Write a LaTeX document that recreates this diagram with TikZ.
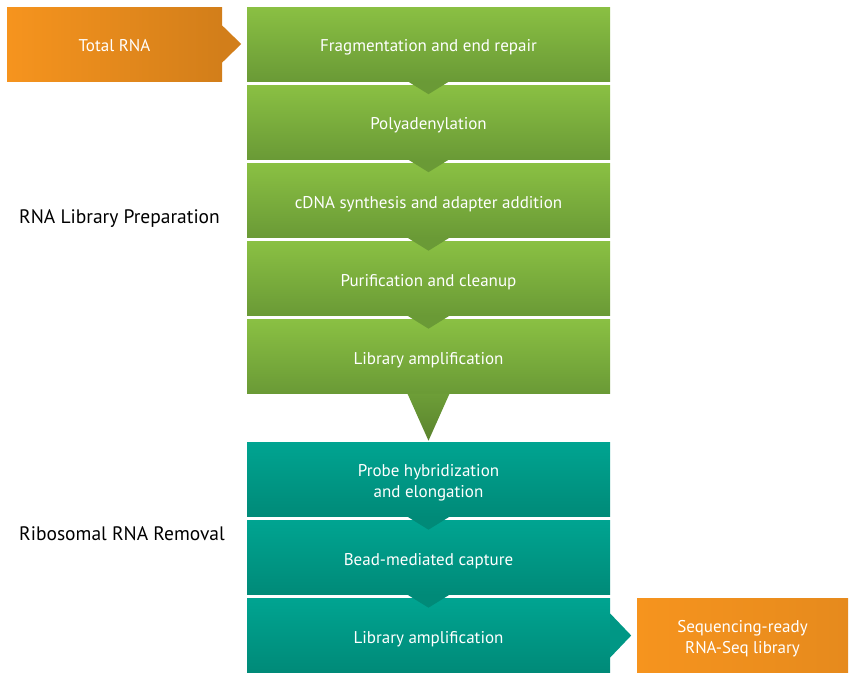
\documentclass[tikz,border=0pt]{standalone}
\usepackage{fontspec}
\setmainfont{PT Sans}
\definecolor{greenTop}{HTML}{8AC043}
\definecolor{greenBot}{HTML}{6A9A36}
\definecolor{tealTop}{HTML}{00A491}
\definecolor{tealBot}{HTML}{008A78}
\definecolor{orangeL}{HTML}{F6941E}
\definecolor{orangeR}{HTML}{D27E1A}
\definecolor{orangeEnd}{HTML}{E68A1D}
\tikzset{
  stepbox/.style={minimum width=363pt, minimum height=74pt, inner sep=0pt,
    text=white, align=center, text height=15pt, text depth=0pt,
    font=\fontsize{17}{21}\selectfont},
  twolines/.style={text height=36pt},
  greenbox/.style={stepbox, top color=greenTop, bottom color=greenBot},
  tealbox/.style={stepbox, top color=tealTop, bottom color=tealBot},
  orangebox/.style={stepbox, left color=orangeL},
  sidelabel/.style={anchor=west, inner sep=0pt, font=\fontsize{19.5}{22}\selectfont}
}
\begin{document}
\begin{tikzpicture}[x=1pt,y=-1pt]
    \useasboundingbox (0,0) rectangle (857,696);

    % 左侧标题
    \node[sidelabel] (prep) at (19,218.5) {RNA Library Preparation};
    \node[sidelabel] (removal) at (19,533.5) {Ribosomal RNA Removal};

    % 起点与终点
    \node[orangebox, minimum width=215pt, right color=orangeR] (total) at (114.5,44) {Total RNA};
    \node[orangebox, twolines, minimum width=211pt, right color=orangeEnd] (ready) at (742.5,635) {Sequencing-ready\\RNA-Seq library};

    % 文库制备步骤
    \node[greenbox] (g1) at (428.5,44) {Fragmentation and end repair};
    \node[greenbox] (g2) at (428.5,122) {Polyadenylation};
    \node[greenbox] (g3) at (428.5,200.5) {cDNA synthesis and adapter addition};
    \node[greenbox] (g4) at (428.5,278.5) {Purification and cleanup};
    \node[greenbox] (g5) at (428.5,356.5) {Library amplification};

    % 核糖体 RNA 去除步骤
    \node[tealbox, twolines] (t1) at (428.5,479.5) {Probe hybridization\\and elongation};
    \node[tealbox] (t2) at (428.5,557.5) {Bead-mediated capture};
    \node[tealbox] (t3) at (428.5,635.5) {Library amplification};

    % 步骤之间的小箭头
    \foreach \s in {g1,g2,g3,g4}
        \fill[greenBot] ([xshift=-21pt]\s.south) -- ([xshift=21pt]\s.south)
            -- ([yshift=-13pt]\s.south) -- cycle;
    \foreach \s in {t1,t2}
        \fill[tealBot] ([xshift=-21pt]\s.south) -- ([xshift=21pt]\s.south)
            -- ([yshift=-13pt]\s.south) -- cycle;

    % 两段之间的大箭头
    \shade[top color=greenBot!90!greenTop, bottom color=greenBot!85!black]
        ([xshift=-21pt]g5.south) -- ([xshift=21pt]g5.south)
        -- ([yshift=-47pt]g5.south) -- cycle;

    % 左右两端的箭头
    \fill[orangeR] ([yshift=18.5pt]total.east) -- ([xshift=19pt]total.east)
        -- ([yshift=-18.5pt]total.east) -- cycle;
    \fill[tealTop!50!tealBot] ([yshift=22pt]t3.east) -- ([xshift=21pt]t3.east)
        -- ([yshift=-22pt]t3.east) -- cycle;
\end{tikzpicture}
\end{document}
